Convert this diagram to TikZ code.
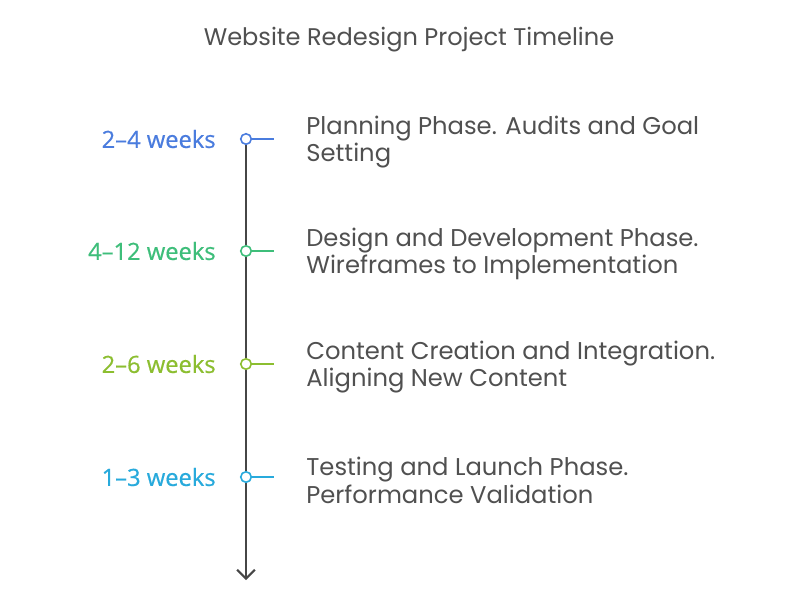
\documentclass[tikz,border=0pt]{standalone}
\usepackage{fontspec}
\setmainfont{Poppins}
\newfontfamily\labelfont{Open Sans}[FakeBold=0.6]
\usetikzlibrary{positioning, arrows.meta}
\definecolor{stepblue}{RGB}{74,124,222}
\definecolor{stepgreen}{RGB}{62,190,122}
\definecolor{steplime}{RGB}{140,190,48}
\definecolor{stepcyan}{RGB}{40,170,220}
\definecolor{inkgray}{RGB}{80,80,80}
\definecolor{axisgray}{RGB}{70,70,70}
\tikzset{
    weeks/.style={anchor=east, inner sep=0pt, font=\labelfont\fontsize{13.5}{16}\selectfont},
    phase/.style={anchor=west, align=left, inner sep=0pt, text=inkgray,
        font=\fontsize{13.8}{15.8}\selectfont},
    dot/.style={draw, circle, fill=white, line width=0.9pt, minimum size=6pt, inner sep=0pt},
    tick/.style={line width=1pt},
    axis/.style={draw=axisgray, line width=1.2pt}
}
\begin{document}
\begin{tikzpicture}[x=0.02cm, y=-0.02cm, >={Straight Barb[length=5pt, width=10pt]}]
  \useasboundingbox[fill=white](0,0) rectangle (810,600);
  \node(T)[text=inkgray, font=\fontsize{13.7}{16}\selectfont] at (409,40){Website Redesign Project Timeline};
  % markers on the axis
  \coordinate(P1) at (246,139);
  \coordinate(P2) at (246,251);
  \coordinate(P3) at (246,364);
  \coordinate(P4) at (246,477);
  \coordinate(End) at (246,580);
  \draw[axis, ->](P1)--(End);
  \node(W1)[weeks, text=stepblue] at (216,139){2–4 weeks};
  \node(W2)[weeks, text=stepgreen] at (216,251){4–12 weeks};
  \node(W3)[weeks, text=steplime] at (216,364){2–6 weeks};
  \node(W4)[weeks, text=stepcyan] at (216,477){1–3 weeks};
  \node(S1)[phase] at (306,142){Planning Phase. Audits and Goal\\Setting};
  \node(S2)[phase] at (306,254){Design and Development Phase.\\Wireframes to Implementation};
  \node(S3)[phase] at (306,367){Content Creation and Integration.\\Aligning New Content};
  \node(S4)[phase] at (306,480){Testing and Launch Phase.\\Performance Validation};
  \draw[tick, stepblue](P1)--+(28,0);
  \draw[tick, stepgreen](P2)--+(28,0);
  \draw[tick, steplime](P3)--+(28,0);
  \draw[tick, stepcyan](P4)--+(28,0);
  \node(D1)[dot, draw=stepblue] at (P1){};
  \node(D2)[dot, draw=stepgreen] at (P2){};
  \node(D3)[dot, draw=steplime] at (P3){};
  \node(D4)[dot, draw=stepcyan] at (P4){};
\end{tikzpicture}
\end{document}
